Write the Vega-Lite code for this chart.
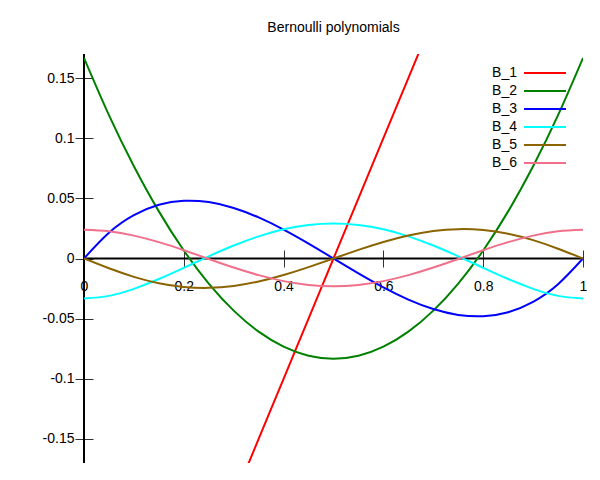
{
  "$schema": "https://vega.github.io/schema/vega-lite/v6.json",
  "width": 499,
  "height": 409,
  "autosize": "none",
  "padding": {"left": 84, "top": 54, "right": 17, "bottom": 17},
  "background": "white",
  "config": {
    "view": {"stroke": null},
    "font": "Liberation Sans"
  },
  "title": {
    "text": "Bernoulli polynomials",
    "fontSize": 14,
    "fontWeight": "normal",
    "color": "black",
    "anchor": "middle",
    "frame": "group",
    "baseline": "alphabetic",
    "offset": 7
  },
  "data": {
    "values": [
      {"x": 0, "B_1": -0.5, "B_2": 0.166667, "B_3": 0, "B_4": -0.033333, "B_5": 0, "B_6": 0.02381},
      {"x": 0.05, "B_1": -0.45, "B_2": 0.119167, "B_3": 0.021375, "B_4": -0.031077, "B_5": -0.00814, "B_6": 0.022574},
      {"x": 0.1, "B_1": -0.4, "B_2": 0.076667, "B_3": 0.036, "B_4": -0.025233, "B_5": -0.01524, "B_6": 0.019031},
      {"x": 0.15, "B_1": -0.35, "B_2": 0.039167, "B_3": 0.044625, "B_4": -0.017077, "B_5": -0.020565, "B_6": 0.013609},
      {"x": 0.2, "B_1": -0.3, "B_2": 0.006667, "B_3": 0.048, "B_4": -0.007733, "B_5": -0.02368, "B_6": 0.006914},
      {"x": 0.25, "B_1": -0.25, "B_2": -0.020833, "B_3": 0.046875, "B_4": 0.001823, "B_5": -0.024414, "B_6": -0.00036},
      {"x": 0.3, "B_1": -0.2, "B_2": -0.043333, "B_3": 0.042, "B_4": 0.010767, "B_5": -0.02282, "B_6": -0.007502},
      {"x": 0.35, "B_1": -0.15, "B_2": -0.060833, "B_3": 0.034125, "B_4": 0.018423, "B_5": -0.019138, "B_6": -0.013843},
      {"x": 0.4, "B_1": -0.1, "B_2": -0.073333, "B_3": 0.024, "B_4": 0.024267, "B_5": -0.01376, "B_6": -0.018814},
      {"x": 0.45, "B_1": -0.05, "B_2": -0.080833, "B_3": 0.012375, "B_4": 0.027923, "B_5": -0.007188, "B_6": -0.02198},
      {"x": 0.5, "B_1": 0, "B_2": -0.083333, "B_3": 0, "B_4": 0.029167, "B_5": 0, "B_6": -0.023065},
      {"x": 0.55, "B_1": 0.05, "B_2": -0.080833, "B_3": -0.012375, "B_4": 0.027923, "B_5": 0.007188, "B_6": -0.02198},
      {"x": 0.6, "B_1": 0.1, "B_2": -0.073333, "B_3": -0.024, "B_4": 0.024267, "B_5": 0.01376, "B_6": -0.018814},
      {"x": 0.65, "B_1": 0.15, "B_2": -0.060833, "B_3": -0.034125, "B_4": 0.018423, "B_5": 0.019138, "B_6": -0.013843},
      {"x": 0.7, "B_1": 0.2, "B_2": -0.043333, "B_3": -0.042, "B_4": 0.010767, "B_5": 0.02282, "B_6": -0.007502},
      {"x": 0.75, "B_1": 0.25, "B_2": -0.020833, "B_3": -0.046875, "B_4": 0.001823, "B_5": 0.024414, "B_6": -0.00036},
      {"x": 0.8, "B_1": 0.3, "B_2": 0.006667, "B_3": -0.048, "B_4": -0.007733, "B_5": 0.02368, "B_6": 0.006914},
      {"x": 0.85, "B_1": 0.35, "B_2": 0.039167, "B_3": -0.044625, "B_4": -0.017077, "B_5": 0.020565, "B_6": 0.013609},
      {"x": 0.9, "B_1": 0.4, "B_2": 0.076667, "B_3": -0.036, "B_4": -0.025233, "B_5": 0.01524, "B_6": 0.019031},
      {"x": 0.95, "B_1": 0.45, "B_2": 0.119167, "B_3": -0.021375, "B_4": -0.031077, "B_5": 0.00814, "B_6": 0.022574},
      {"x": 1, "B_1": 0.5, "B_2": 0.166667, "B_3": 0, "B_4": -0.033333, "B_5": 0, "B_6": 0.02381}
    ]
  },
  "layer": [
    {
      "data": {"values": [{}]},
      "mark": {"type": "rule", "color": "black", "strokeWidth": 2},
      "encoding": {"y": {"datum": 0, "type": "quantitative"}}
    },
    {
      "data": {"values": [{}]},
      "mark": {"type": "rule", "color": "black", "strokeWidth": 2},
      "encoding": {"x": {"datum": 0, "type": "quantitative"}}
    },
    {
      "transform": [
        {"fold": ["B_1", "B_2", "B_3", "B_4", "B_5", "B_6"], "as": ["key", "value"]}
      ],
      "mark": {"type": "line", "clip": true, "strokeWidth": 2, "interpolate": "natural"},
      "encoding": {
        "x": {
          "field": "x",
          "type": "quantitative",
          "scale": {"domain": [0, 1], "nice": false, "zero": false},
          "axis": {
            "title": null,
            "values": [0, 0.2, 0.4, 0.6, 0.8, 1],
            "format": "~g",
            "domain": false,
            "grid": false,
            "tickSize": 17,
            "tickColor": "#333333",
            "offset": -213,
            "labelPadding": 12,
            "labelFlush": false,
            "labelFontSize": 14,
            "labelColor": "black"
          }
        },
        "y": {
          "field": "value",
          "type": "quantitative",
          "scale": {"domain": [-0.17, 0.17], "nice": false, "zero": false},
          "axis": {
            "title": null,
            "values": [-0.15, -0.1, -0.05, 0, 0.05, 0.1, 0.15],
            "format": "~g",
            "labelExpr": "replace(datum.label, '\u2212', '-')",
            "domain": false,
            "grid": false,
            "tickSize": 18,
            "tickColor": "#333333",
            "offset": -9,
            "labelPadding": 1,
            "labelFontSize": 14,
            "labelColor": "black"
          }
        },
        "color": {
          "field": "key",
          "type": "nominal",
          "scale": {
            "domain": ["B_1", "B_2", "B_3", "B_4", "B_5", "B_6"],
            "range": ["#ff0000", "#008000", "#0000ff", "#00ffff", "#8b6400", "#f0708c"]
          },
          "legend": {
            "title": null,
            "orient": "none",
            "legendX": 453,
            "legendY": 11,
            "padding": 0,
            "symbolType": "M-3,0H3",
            "symbolSize": 196,
            "symbolStrokeWidth": 2,
            "labelFontSize": 14,
            "labelColor": "black",
            "labelAlign": "right",
            "labelOffset": -36,
            "rowPadding": 3
          }
        }
      }
    }
  ]
}
